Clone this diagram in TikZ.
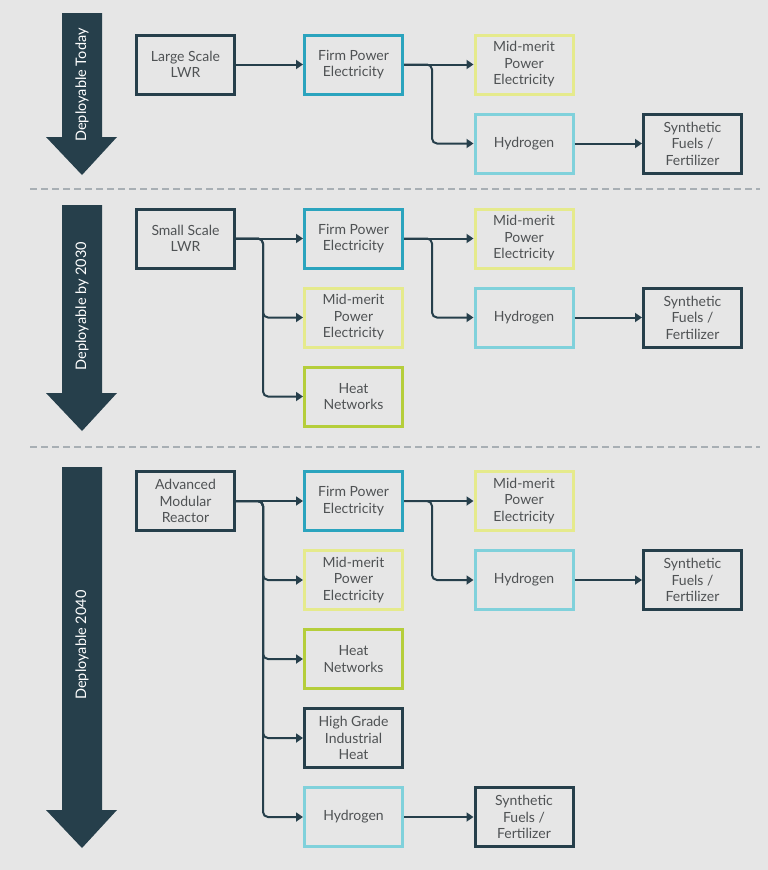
\documentclass[tikz,border=0pt]{standalone}
\usepackage{fontspec}
\setmainfont{Lato}
\usetikzlibrary{arrows.meta,positioning}
\definecolor{bggray}{HTML}{E6E6E6}
\definecolor{slate}{HTML}{263F4B}
\definecolor{firmcyan}{HTML}{2BA4BE}
\definecolor{midyellow}{HTML}{E5EA8C}
\definecolor{hydcyan}{HTML}{80D1DB}
\definecolor{heatgreen}{HTML}{B5CE3B}
\definecolor{txtgray}{HTML}{4F5254}
\definecolor{dashgray}{HTML}{A8AFB4}
\tikzset{
  box/.style={draw,line width=3pt,minimum width=98pt,minimum height=59pt,inner sep=2pt,align=center,text=txtgray,font=\fontsize{14}{16.5}\selectfont},
  srcbox/.style={box,draw=slate},
  firmbox/.style={box,draw=firmcyan},
  midbox/.style={box,draw=midyellow},
  hydbox/.style={box,draw=hydcyan},
  heatbox/.style={box,draw=heatgreen},
  flow/.style={draw=slate,line width=2pt,rounded corners=5pt,-{Triangle[length=7pt,width=9pt]}},
  stagelabel/.style={rotate=90,text=white,font=\fontsize{14.5}{17}\selectfont},
  divider/.style={draw=dashgray,line width=1.3pt,dash pattern=on 7pt off 4pt}
}
\begin{document}
\begin{tikzpicture}[x=1pt,y=-1pt]
\fill[bggray] (0,0) rectangle (768,870);
\useasboundingbox (0,0) rectangle (768,870);
% stage arrows
\fill[slate] (62,13)--(102,13)--(102,137)--(117,137)--(82,175)--(46,137)--(62,137)--cycle;
\node[stagelabel] (t1) at (82,85) {Deployable Today};
\fill[slate] (62,205)--(102,205)--(102,393)--(117,393)--(82,431)--(46,393)--(62,393)--cycle;
\node[stagelabel] (t2) at (82,306) {Deployable by 2030};
\fill[slate] (62,467)--(102,467)--(102,810)--(117,810)--(82,848)--(46,810)--(62,810)--cycle;
\node[stagelabel] (t3) at (82,645) {Deployable 2040};
\draw[divider] (30,189) -- (760,189);
\draw[divider] (30,447) -- (760,447);
% today
\node[srcbox] (src1) at (185.5,64.5) {Large Scale\\LWR};
\node[firmbox] (firm1) at (353.5,64.5) {Firm Power\\Electricity};
\node[midbox] (mid1) at (524,64.5) {Mid-merit\\Power\\Electricity};
\node[hydbox] (hyd1) at (524,143.5) {Hydrogen};
\node[srcbox] (syn1) at (692.5,143.5) {Synthetic\\Fuels /\\Fertilizer};
\draw[flow] (src1) -- (firm1);
\draw[flow] (firm1) -- (mid1);
\draw[flow] (firm1.east) -- ++(28,0) |- (hyd1.west);
\draw[flow] (hyd1) -- (syn1);
% 2030
\node[srcbox] (src2) at (185.5,238.5) {Small Scale\\LWR};
\node[firmbox] (firm2) at (353.5,238.5) {Firm Power\\Electricity};
\node[midbox] (mid2) at (353.5,317.5) {Mid-merit\\Power\\Electricity};
\node[heatbox] (heat2) at (353.5,396.5) {Heat\\Networks};
\node[midbox] (midb2) at (524,238.5) {Mid-merit\\Power\\Electricity};
\node[hydbox] (hyd2) at (524,317.5) {Hydrogen};
\node[srcbox] (syn2) at (692.5,317.5) {Synthetic\\Fuels /\\Fertilizer};
\draw[flow] (src2) -- (firm2);
\draw[flow] (src2.east) -- ++(27,0) |- (mid2.west);
\draw[flow] (src2.east) -- ++(27,0) |- (heat2.west);
\draw[flow] (firm2) -- (midb2);
\draw[flow] (firm2.east) -- ++(28,0) |- (hyd2.west);
\draw[flow] (hyd2) -- (syn2);
% 2040
\node[srcbox] (src3) at (185.5,501) {Advanced\\Modular\\Reactor};
\node[firmbox] (firm3) at (353.5,501) {Firm Power\\Electricity};
\node[midbox] (mid3) at (353.5,580) {Mid-merit\\Power\\Electricity};
\node[heatbox] (heat3) at (353.5,659) {Heat\\Networks};
\node[srcbox] (ind3) at (353.5,738) {High Grade\\Industrial\\Heat};
\node[hydbox] (hyd3) at (353.5,817) {Hydrogen};
\node[srcbox] (synb3) at (524,817) {Synthetic\\Fuels /\\Fertilizer};
\node[midbox] (midb3) at (524,501) {Mid-merit\\Power\\Electricity};
\node[hydbox] (hydb3) at (524,580) {Hydrogen};
\node[srcbox] (syn3) at (692.5,580) {Synthetic\\Fuels /\\Fertilizer};
\draw[flow] (src3) -- (firm3);
\draw[flow] (src3.east) -- ++(27,0) |- (mid3.west);
\draw[flow] (src3.east) -- ++(27,0) |- (heat3.west);
\draw[flow] (src3.east) -- ++(27,0) |- (ind3.west);
\draw[flow] (src3.east) -- ++(27,0) |- (hyd3.west);
\draw[flow] (hyd3) -- (synb3);
\draw[flow] (firm3) -- (midb3);
\draw[flow] (firm3.east) -- ++(28,0) |- (hydb3.west);
\draw[flow] (hydb3) -- (syn3);
\end{tikzpicture}
\end{document}
